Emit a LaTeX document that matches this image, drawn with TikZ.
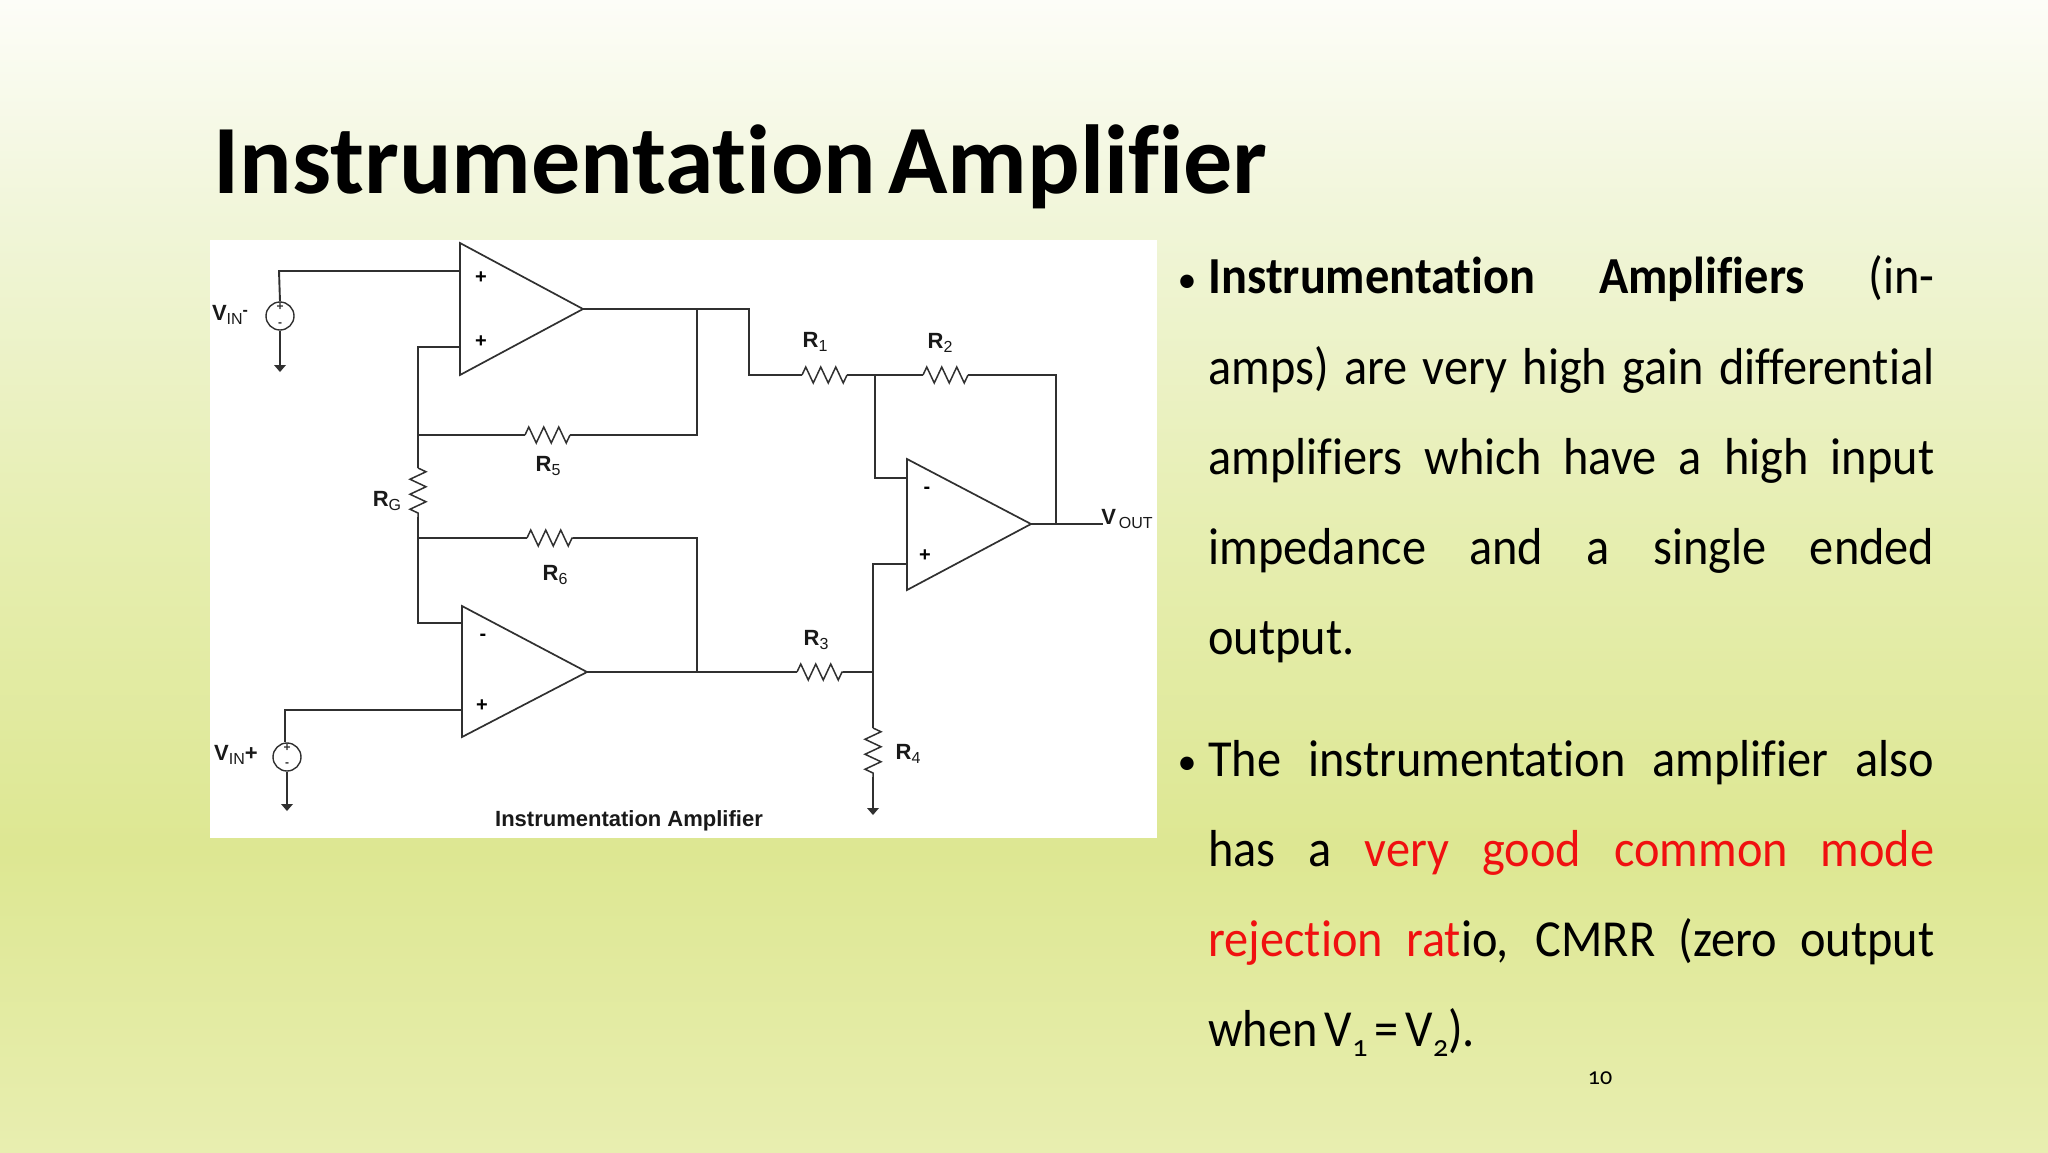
\documentclass[tikz,border=0pt]{standalone}
\usepackage{fontspec}
\setmainfont[Ligatures=NoCommon]{Carlito}
\newfontfamily\diagfont{Liberation Sans}
\newfontfamily\onumfont[Numbers=OldStyle]{Carlito}
\newfontfamily\bodyfont[Ligatures=NoCommon,FakeStretch=0.93]{Carlito}
\newfontfamily\titlefont[Ligatures=NoCommon,WordSpace=0.55]{Carlito}
\newfontfamily\whenfont[Ligatures=NoCommon,FakeStretch=0.93,WordSpace=0.8]{Carlito}
\usetikzlibrary{decorations.pathmorphing,calc}
\definecolor{wirec}{HTML}{303030}
\definecolor{redtxt}{HTML}{F01010}
\definecolor{bg0}{HTML}{FDFDF8}
\definecolor{bg1}{HTML}{F0F5D7}
\definecolor{bg2}{HTML}{E6EEB0}
\definecolor{bg3}{HTML}{DDE792}
\definecolor{bg4}{HTML}{E8EEB0}
\pgfdeclareverticalshading{slidebg}{100bp}{color(0bp)=(bg4); color(25bp)=(bg4); color(38.1bp)=(bg3); color(51.6bp)=(bg2); color(65bp)=(bg1); color(75bp)=(bg0); color(100bp)=(bg0)}
\newcommand{\lab}[2]{{\fontsize{11}{12}\selectfont\bfseries #1}\raisebox{-0.35ex}{\fontsize{8}{9}\selectfont #2}}
\newcommand{\sbn}[1]{\raisebox{-0.42ex}{\fontsize{15}{15}\selectfont\onumfont #1}}
\tikzset{
  wire/.style={draw=wirec,line width=0.95pt,line join=miter},
  amp/.style={draw=wirec,line width=0.85pt,fill=white,line join=miter},
  res/.style={draw=wirec,line width=0.75pt,decorate,decoration={zigzag,segment length=7.5pt,amplitude=4pt}},
  src/.style={circle,draw=wirec,line width=0.7pt,fill=white,minimum size=14pt,inner sep=0pt},
  gnd/.style={fill=wirec,draw=none},
  pin/.style={font=\diagfont\bfseries\fontsize{10}{10}\selectfont,text=black,inner sep=0pt},
  tiny/.style={font=\diagfont\bfseries\fontsize{6}{6}\selectfont,text=wirec,inner sep=0pt},
  lbl/.style={font=\diagfont,text=black!90,inner sep=0pt},
  bodyline/.style={anchor=base west,inner sep=0pt,font=\bodyfont\fontsize{26}{32}\selectfont,text=black},
  bullet/.style={anchor=base,inner sep=0pt,font=\fontsize{19}{24}\selectfont,text=black},
}
\newcommand{\jline}[1]{\makebox[363pt][s]{#1}}
\begin{document}
\begin{tikzpicture}[x=0.5pt,y=-0.5pt]
\useasboundingbox (0,0) rectangle (2048,1152);
\shade[shading=slidebg] (0,0) rectangle (2048,1152);
\node[anchor=base west,inner sep=0pt,font=\titlefont\fontsize{49}{56}\selectfont\bfseries] (title) at (213,193) {Instrumentation Amplifier};
\fill[white] (210,240) rectangle (1157,838);

% op-amp corners
\coordinate (a1t) at (460,243); \coordinate (a1b) at (460,375); \coordinate (a1o) at (583,309);
\coordinate (a2t) at (462,606); \coordinate (a2b) at (462,737); \coordinate (a2o) at (587,672);
\coordinate (a3t) at (907,459); \coordinate (a3b) at (907,590); \coordinate (a3o) at (1031,524);
% input pins
\coordinate (a1p) at (460,271); \coordinate (a1n) at (460,347);
\coordinate (a2n) at (462,623); \coordinate (a2p) at (462,710);
\coordinate (a3n) at (907,478); \coordinate (a3p) at (907,564);
% resistor ends
\coordinate (r1a) at (802,375); \coordinate (r1b) at (847,375);
\coordinate (r2a) at (923,375); \coordinate (r2b) at (968,375);
\coordinate (r3a) at (797,672); \coordinate (r3b) at (843,672);
\coordinate (r5a) at (525,435); \coordinate (r5b) at (570,435);
\coordinate (r6a) at (527,538); \coordinate (r6b) at (573,538);
\coordinate (rga) at (418,468); \coordinate (rgb) at (418,517);
\coordinate (r4a) at (873,728); \coordinate (r4b) at (873,777);
% junctions and bends
\coordinate (j1) at (697,309); \coordinate (j2) at (749,309); \coordinate (j3) at (749,375);
\coordinate (j4) at (875,375); \coordinate (j5) at (1056,375); \coordinate (j6) at (1056,524);
\coordinate (j7) at (697,672); \coordinate (j8) at (873,672);
\coordinate (l1) at (418,347); \coordinate (l2) at (418,435); \coordinate (l3) at (418,538); \coordinate (l4) at (418,623);
\coordinate (r5c) at (697,435); \coordinate (r6c) at (697,538);
\coordinate (n3) at (875,478); \coordinate (p3) at (873,564);
\coordinate (vout) at (1103,524);
\coordinate (in1) at (279,271); \coordinate (in2) at (285,710);
\coordinate (g1) at (280,365); \coordinate (g2) at (287,804); \coordinate (g3) at (873,808);

\node[src] (vs1) at (280,316) {};
\node[src] (vs2) at (287,757) {};

% wires
\draw[wire] (a1p) -- (in1) -- (vs1.north);
\draw[wire] (vs1.south) -- (g1);
\draw[wire] (a2p) -- (in2) -- (in2 |- vs2.north);
\draw[wire] (vs2.south) -- (g2);
\draw[wire] (a1n) -- (l1) -- (rga);
\draw[wire] (rgb) -- (l4) -- (a2n);
\draw[wire] (l2) -- (r5a);
\draw[wire] (r5b) -- (r5c) -- (j1);
\draw[wire] (l3) -- (r6a);
\draw[wire] (r6b) -- (r6c) -- (j7);
\draw[wire] (a1o) -- (j2) -- (j3) -- (r1a);
\draw[wire] (r1b) -- (r2a);
\draw[wire] (r2b) -- (j5) -- (j6);
\draw[wire] (a3n) -- (n3) -- (j4);
\draw[wire] (a3p) -- (p3) -- (r4a);
\draw[wire] (a2o) -- (r3a);
\draw[wire] (r3b) -- (j8);
\draw[wire] (a3o) -- (vout);
\draw[wire] (r4b) -- (g3);

% resistors
\draw[res] (r1a) -- (r1b);
\draw[res] (r2a) -- (r2b);
\draw[res] (r3a) -- (r3b);
\draw[res] (r5a) -- (r5b);
\draw[res] (r6a) -- (r6b);
\draw[res] (rga) -- (rgb);
\draw[res] (r4a) -- (r4b);

% op-amps
\draw[amp] (a1t) -- (a1o) -- (a1b) -- cycle;
\draw[amp] (a2t) -- (a2o) -- (a2b) -- cycle;
\draw[amp] (a3t) -- (a3o) -- (a3b) -- cycle;

% grounds
\fill[gnd] ($(g1)+(-6,0)$) -- ($(g1)+(6,0)$) -- ($(g1)+(0,7)$) -- cycle;
\fill[gnd] ($(g2)+(-6,0)$) -- ($(g2)+(6,0)$) -- ($(g2)+(0,7)$) -- cycle;
\fill[gnd] ($(g3)+(-6,0)$) -- ($(g3)+(6,0)$) -- ($(g3)+(0,7)$) -- cycle;

% pin marks
\node[pin] (m1) at (481,278) {+};
\node[pin] (m2) at (481,342) {+};
\node[pin] (m3) at (483,637) {-};
\node[pin] (m4) at (482,706) {+};
\node[pin] (m5) at (927,490) {-};
\node[pin] (m6) at (925,556) {+};
\node[tiny] (s1) at (280,307) {+};
\node[tiny] (s2) at (280,325) {-};
\node[tiny] (s3) at (287,748) {+};
\node[tiny] (s4) at (287,765) {-};

% labels
\node[lbl] (lvm) at (230,315) {\lab{V}{IN}\raisebox{0.5ex}{\fontsize{8}{8}\selectfont\bfseries-}};
\node[lbl] (lvp) at (236,755) {\lab{V}{IN}{\fontsize{11}{12}\selectfont\bfseries +}};
\node[lbl] (lr1) at (815,342) {\lab{R}{1}};
\node[lbl] (lr2) at (940,343) {\lab{R}{2}};
\node[lbl] (lr3) at (816,640) {\lab{R}{3}};
\node[lbl] (lr4) at (908,754) {\lab{R}{4}};
\node[lbl] (lr5) at (548,466) {\lab{R}{5}};
\node[lbl] (lr6) at (555,575) {\lab{R}{6}};
\node[lbl] (lrg) at (387,501) {\lab{R}{G}};
\node[lbl] (lvo) at (1127,519) {\lab{V}{\,OUT}};
\node[lbl,font=\diagfont\bfseries\fontsize{11}{12}\selectfont] (cap) at (629,821) {Instrumentation Amplifier};

% body text
\node[bullet] (b1) at (1187,292) {•};
\node[bodyline] (t1) at (1208,293) {\jline{\textbf{Instrumentation Amplifiers} (in-}};
\node[bodyline] (t2) at (1208,384) {\jline{amps) are very high gain differential}};
\node[bodyline] (t3) at (1208,474) {\jline{amplifiers which have a high input}};
\node[bodyline] (t4) at (1208,564) {\jline{impedance and a single ended}};
\node[bodyline] (t5) at (1208,654) {output.};
\node[bullet] (b2) at (1187,774) {•};
\node[bodyline] (t6) at (1208,776) {\jline{The instrumentation amplifier also}};
\node[bodyline] (t7) at (1208,866) {\jline{has a \textcolor{redtxt}{very good common mode}}};
\node[bodyline] (t8) at (1208,956) {\jline{\textcolor{redtxt}{rejection rat}io, CMRR (zero output}};
\node[bodyline,font=\whenfont\fontsize{26}{32}\selectfont] (t9) at (1208,1046) {when V\sbn{1} = V\sbn{2}).};
\node[anchor=center,inner sep=0pt,font=\onumfont\fontsize{12}{12}\selectfont] (pg) at (1600,1078) {10};
\end{tikzpicture}
\end{document}
